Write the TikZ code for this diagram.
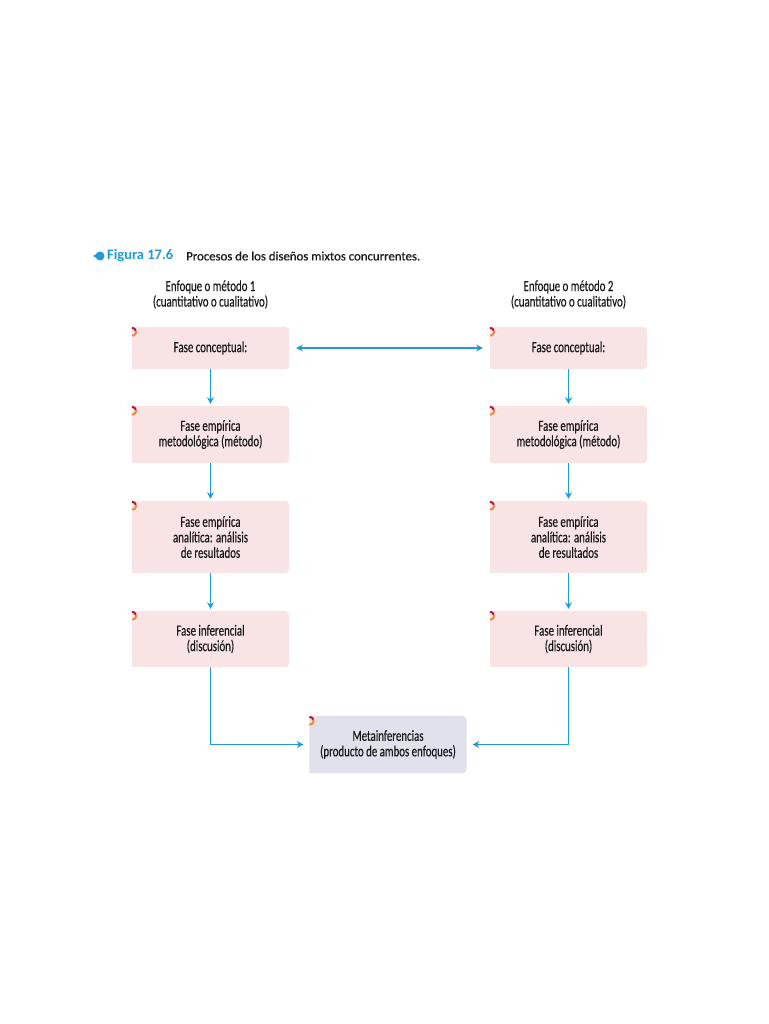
\documentclass[tikz,border=0pt]{standalone}
\usepackage{fontspec}
\setmainfont{Carlito}
\newfontfamily\condfont[FakeStretch=0.7,FakeBold=0.4]{Carlito}
\newfontfamily\capfont[FakeBold=0.6]{Carlito}
\usetikzlibrary{arrows.meta,backgrounds}
\definecolor{pinkfill}{HTML}{F8E4E4}
\definecolor{grayfill}{HTML}{E0E1EB}
\definecolor{arrowblue}{HTML}{1E9BD7}
\definecolor{markred}{HTML}{B5123E}
\definecolor{markorange}{HTML}{F0893A}
\begin{document}
\begin{tikzpicture}[x=1pt,y=1pt,
  stagebox/.style={minimum width=157pt,inner sep=0pt,align=center,
    font=\condfont\fontsize{15.5}{15.5}\selectfont,text=black!90},
  heading/.style={align=center,font=\condfont\fontsize{15.5}{15.5}\selectfont,text=black!90},
  conn/.style={draw=arrowblue,line width=1.1pt,-{Stealth[length=6.5pt,width=7pt]},shorten >=2pt}
]
\useasboundingbox (0,0) rectangle (768,-1024);
% title
\fill[arrowblue] (93,-256) -- (101,-251.5) -- (101,-260.5) -- cycle;
\fill[arrowblue] (100,-256) circle (4.5pt);
\node[anchor=west,inner sep=0pt,text=arrowblue,font=\bfseries\fontsize{14.5}{16}\selectfont] (fig) at (107,-256) {Figura 17.6};
\node[anchor=west,inner sep=0pt,text=black!90,font=\capfont\fontsize{12.8}{15}\selectfont] (cap) at (186,-256) {Procesos de los diseños mixtos concurrentes.};
% headings
\node[heading] (h1) at (210.5,-294.5) {Enfoque o método 1\\(cuantitativo o cualitativo)};
\node[heading] (h2) at (568.5,-294.5) {Enfoque o método 2\\(cuantitativo o cualitativo)};
% boxes left
\node[stagebox,minimum height=42pt] (l1) at (210.5,-348) {Fase conceptual:};
\node[stagebox,minimum height=57pt] (l2) at (210.5,-434.5) {Fase empírica\\metodológica (método)};
\node[stagebox,minimum height=72pt] (l3) at (210.5,-537) {Fase empírica\\analítica: análisis\\de resultados};
\node[stagebox,minimum height=56pt] (l4) at (210.5,-639) {Fase inferencial\\(discusión)};
% boxes right
\node[stagebox,minimum height=42pt] (r1) at (568.5,-348) {Fase conceptual:};
\node[stagebox,minimum height=57pt] (r2) at (568.5,-434.5) {Fase empírica\\metodológica (método)};
\node[stagebox,minimum height=72pt] (r3) at (568.5,-537) {Fase empírica\\analítica: análisis\\de resultados};
\node[stagebox,minimum height=56pt] (r4) at (568.5,-639) {Fase inferencial\\(discusión)};
% meta
\node[stagebox,minimum height=57pt] (m) at (388,-744.5) {Metainferencias\\(producto de ambos enfoques)};
\begin{scope}[on background layer]
\foreach \n/\c in {l1/pinkfill,l2/pinkfill,l3/pinkfill,l4/pinkfill,r1/pinkfill,r2/pinkfill,r3/pinkfill,r4/pinkfill,m/grayfill}{
  \fill[\c] (\n.south west) -- (\n.north west) [rounded corners=4pt] -- (\n.north east) -- (\n.south east) [sharp corners] -- (\n.south west) -- cycle;
  \draw[markred,line width=2pt] ([xshift=0.2pt,yshift=-1pt]\n.north west) arc[start angle=90,end angle=15,radius=4pt];
  \draw[markorange,line width=2pt] ([xshift=0.2pt,yshift=-5pt]\n.north west) ++(15:4pt) arc[start angle=15,end angle=-90,radius=4pt];
}
\end{scope}
% connectors
\draw[conn] (l1) -- (l2);
\draw[conn] (l2) -- (l3);
\draw[conn] (l3) -- (l4);
\draw[conn] (r1) -- (r2);
\draw[conn] (r2) -- (r3);
\draw[conn] (r3) -- (r4);
\draw[conn,{Stealth[length=6.5pt,width=7pt]}-{Stealth[length=6.5pt,width=7pt]},shorten <=7pt,shorten >=7pt] (l1) -- (r1);
\draw[conn,shorten >=6pt] (l4.south) |- (m.west);
\draw[conn,shorten >=6pt] (r4.south) |- (m.east);
\end{tikzpicture}
\end{document}
